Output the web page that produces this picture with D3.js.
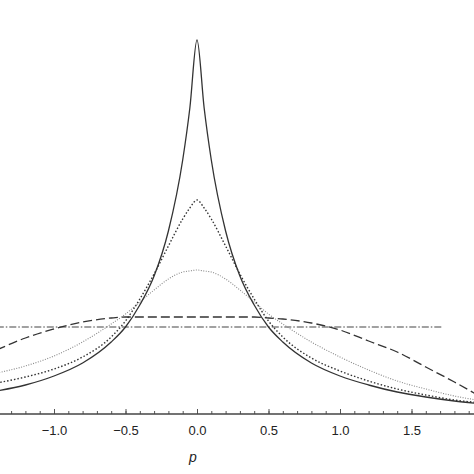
<!DOCTYPE html>
<html>
<head>
<meta charset="utf-8">
<script src="https://cdn.jsdelivr.net/npm/d3@7"></script>
<style>
  body { margin: 0; background: #fff; }
  text { font-family: "Liberation Sans", Arial, sans-serif; }
</style>
</head>
<body>
<svg width="474" height="474"></svg>
<script>
var pGrid = [-1.4,-1.2,-1.0,-0.8,-0.6,-0.5,-0.4,-0.3,-0.2,-0.1,-0.05,0,0.05,0.1,0.2,0.3,0.4,0.5,0.6,0.8,1.0,1.2,1.4,1.6,1.8,2.0];
var solid = [0.23,0.29,0.38,0.51,0.72,0.87,1.09,1.38,1.83,2.54,3.06,3.74,3.06,2.54,1.83,1.38,1.09,0.87,0.72,0.51,0.38,0.29,0.22,0.17,0.13,0.10];
var denseDotted = [0.31,0.37,0.45,0.57,0.77,0.93,1.15,1.40,1.68,1.95,2.06,2.14,2.06,1.95,1.68,1.40,1.15,0.93,0.77,0.56,0.43,0.33,0.25,0.19,0.14,0.11];
var fineDotted = [0.41,0.48,0.58,0.72,0.90,1.00,1.12,1.24,1.35,1.42,1.43,1.44,1.43,1.42,1.35,1.24,1.12,1.00,0.90,0.72,0.57,0.44,0.33,0.25,0.18,0.13];
var dashed = [0.64,0.76,0.85,0.92,0.96,0.97,0.97,0.97,0.97,0.97,0.97,0.97,0.97,0.97,0.97,0.97,0.97,0.96,0.95,0.91,0.84,0.73,0.62,0.47,0.32,0.16];
var flatP = [-1.4, 1.72];
var flatLevel = [0.87, 0.87];
var majorTicks = [-1.0,-0.5,0.0,0.5,1.0,1.5];

var svg = d3.select('svg');
var x = d3.scaleLinear().domain([0, 1]).range([197, 340]);
x.domain([0, 1]); // 143 px per unit, 0 at 197
var y = d3.scaleLinear().domain([0, 3.74]).range([414, 40]);

var line = d3.line().x(function(d){ return x(d[0]); }).y(function(d){ return y(d[1]); }).curve(d3.curveMonotoneX);

function draw(ps, vs, dash, color, w) {
  svg.append('path')
    .datum(ps.map(function(p, i){ return [p, vs[i]]; }))
    .attr('d', line)
    .attr('fill', 'none')
    .attr('stroke', color)
    .attr('stroke-width', w)
    .attr('stroke-dasharray', dash);
}

draw(flatP, flatLevel, '7,2,1.5,2', '#444', 1.1);
draw(pGrid, dashed, '9,4', '#333', 1.3);
draw(pGrid, fineDotted, '1,1.5', '#888', 1.1);
draw(pGrid, denseDotted, '1.5,2', '#333', 1.4);
draw(pGrid, solid, null, '#333', 1.3);

// axis
var minor = d3.range(-14, 20).map(function(i){ return i / 10; });
svg.append('g').attr('transform', 'translate(0,414)')
  .call(d3.axisBottom(x).tickValues(minor).tickSize(-3).tickFormat(''))
  .call(function(g){ g.select('.domain').remove(); g.selectAll('line').attr('stroke', '#555'); });
var ax = svg.append('g').attr('transform', 'translate(0,414)')
  .call(d3.axisBottom(x).tickValues(majorTicks).tickSizeInner(-5).tickSizeOuter(0).tickPadding(12).tickFormat(d3.format('.1f')));
ax.select('.domain').remove();
ax.selectAll('line').attr('stroke', '#555');
ax.selectAll('text').attr('font-size', 13).attr('fill', '#222').attr('font-family', '"Liberation Sans", Arial, sans-serif');
svg.append('line').attr('x1', 0).attr('x2', 474).attr('y1', 414).attr('y2', 414).attr('stroke', '#444').attr('stroke-width', 1.3);

svg.append('text').attr('x', 189).attr('y', 462).attr('font-size', 14)
  .attr('font-style', 'italic').attr('fill', '#222').text('p');
</script>
</body>
</html>
